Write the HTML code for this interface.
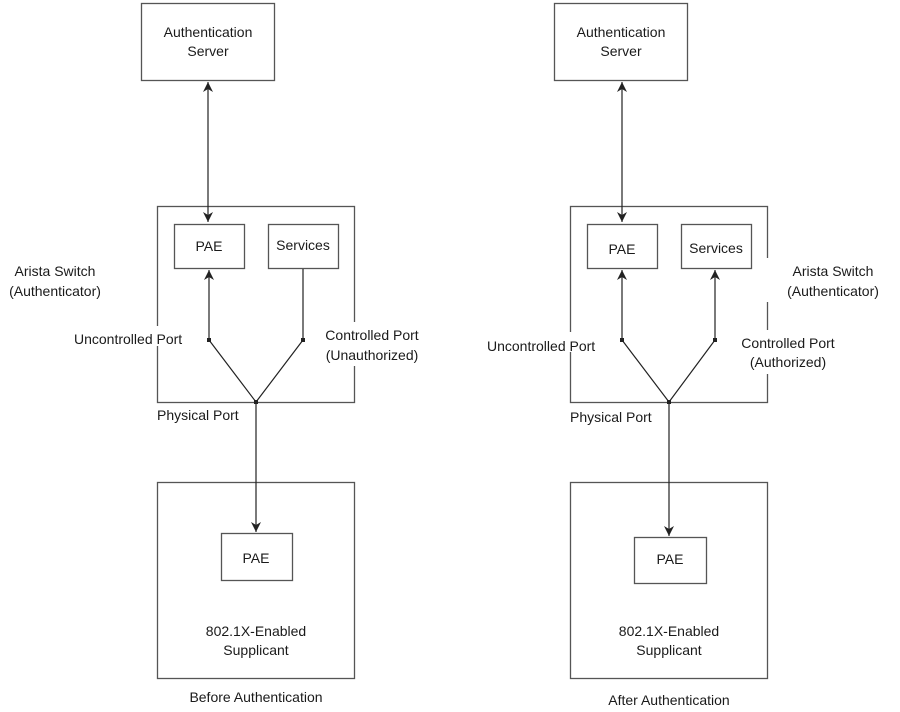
<!DOCTYPE html>
<html><head><meta charset="utf-8"><style>
html,body{margin:0;padding:0;background:#fff;}
svg{display:block;}
text{font-family:"Liberation Sans",sans-serif;font-size:14px;fill:#1a1a1a;}
</style></head><body>
<svg width="900" height="712" viewBox="0 0 900 712" xmlns="http://www.w3.org/2000/svg">
<defs>
<marker id="a" viewBox="0 0 10 10" refX="10" refY="5" markerWidth="10" markerHeight="10" markerUnits="userSpaceOnUse" orient="auto-start-reverse">
<path d="M0,0 L10,5 L0,10 L3,5 z" fill="#222"/></marker>
</defs>
<g fill="none" stroke="#555" stroke-width="1.3">
<!-- LEFT -->
<rect x="141.5" y="3.5" width="133" height="77"/>
<rect x="157.5" y="206.5" width="197" height="196"/>
<rect x="174.5" y="224.5" width="70" height="44"/>
<rect x="268.5" y="224.5" width="70" height="44"/>
<rect x="157.5" y="482.5" width="197" height="196"/>
<rect x="221.5" y="533.5" width="71" height="47"/>
<!-- RIGHT -->
<rect x="554.5" y="3.5" width="133" height="77"/>
<rect x="570.5" y="206.5" width="197" height="196"/>
<rect x="587.5" y="224.5" width="70" height="44"/>
<rect x="681.5" y="224.5" width="70" height="44"/>
<rect x="570.5" y="482.5" width="197" height="196"/>
<rect x="634.5" y="537.5" width="72" height="46"/>
</g>
<g stroke="#222" stroke-width="1.2" fill="none">
<line x1="208" y1="82" x2="208" y2="222" marker-start="url(#a)" marker-end="url(#a)"/>
<line x1="209" y1="340" x2="209" y2="270" marker-end="url(#a)"/>
<line x1="303" y1="340" x2="303" y2="269"/>
<polyline points="209,340 256,402 303,340"/>
<line x1="256" y1="402" x2="256" y2="532" marker-end="url(#a)"/>
<line x1="622" y1="82" x2="622" y2="222" marker-start="url(#a)" marker-end="url(#a)"/>
<line x1="622" y1="340" x2="622" y2="270" marker-end="url(#a)"/>
<line x1="715" y1="340" x2="715" y2="270" marker-end="url(#a)"/>
<polyline points="622,340 669,402 715,340"/>
<line x1="669" y1="402" x2="669" y2="536" marker-end="url(#a)"/>
</g>
<g fill="#222">
<rect x="207" y="338" width="4" height="4"/><rect x="301" y="338" width="4" height="4"/><rect x="254" y="400" width="4" height="4"/>
<rect x="620" y="338" width="4" height="4"/><rect x="713" y="338" width="4" height="4"/><rect x="667" y="400" width="4" height="4"/>
</g>
<!-- label backgrounds breaking box edges -->
<g fill="#fff">
<rect x="150" y="326" width="14" height="20"/>
<rect x="348" y="322" width="14" height="44"/>
<rect x="563" y="332" width="14" height="20"/>
<rect x="760" y="330" width="14" height="44"/>
<rect x="760" y="258" width="14" height="44"/>
</g>
<g text-anchor="middle">
<text x="208" y="37">Authentication</text><text x="208" y="56">Server</text>
<text x="209" y="251">PAE</text><text x="303" y="250">Services</text>
<text x="256" y="563">PAE</text>
<text x="256" y="636">802.1X-Enabled</text><text x="256" y="655">Supplicant</text>
<text x="256" y="702">Before Authentication</text>
<text x="55" y="276">Arista Switch</text><text x="55" y="296">(Authenticator)</text>
<text x="372" y="340">Controlled Port</text><text x="372" y="360">(Unauthorized)</text>

<text x="621" y="37">Authentication</text><text x="621" y="56">Server</text>
<text x="622" y="254">PAE</text><text x="716" y="253">Services</text>
<text x="670" y="564">PAE</text>
<text x="669" y="636">802.1X-Enabled</text><text x="669" y="655">Supplicant</text>
<text x="669" y="705">After Authentication</text>
<text x="833" y="276">Arista Switch</text><text x="833" y="296">(Authenticator)</text>
<text x="788" y="348">Controlled Port</text><text x="788" y="367">(Authorized)</text>
</g>
<text x="74" y="344">Uncontrolled Port</text>
<text x="157" y="420">Physical Port</text>
<text x="487" y="351">Uncontrolled Port</text>
<text x="570" y="422">Physical Port</text>
</svg>
</body></html>
